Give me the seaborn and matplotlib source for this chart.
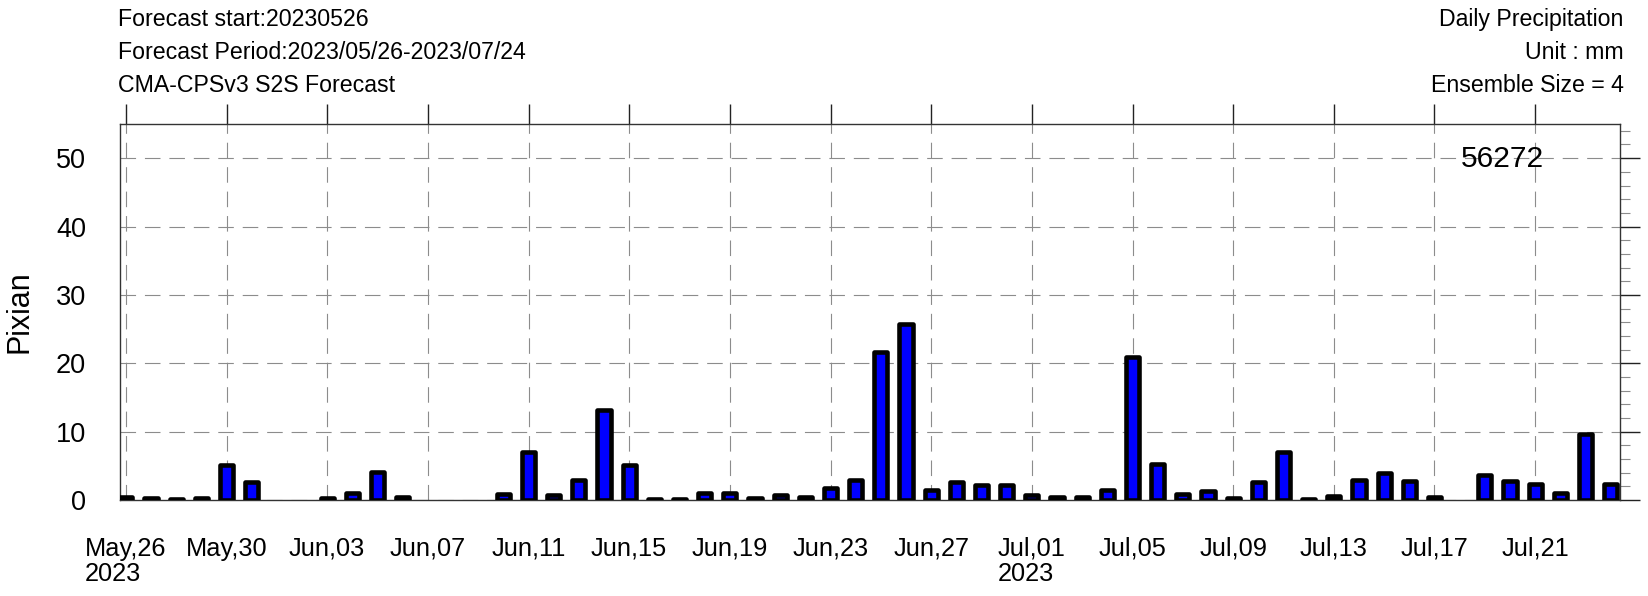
import matplotlib
matplotlib.use("Agg")
import matplotlib.pyplot as plt
from matplotlib.ticker import MultipleLocator
import seaborn as sns
import pandas as pd

# daily ensemble-mean precipitation (mm), 2023-05-26 .. 2023-07-24
start_date = "2023-05-26"
precip = [0.4, 0.35, 0.15, 0.25, 5.1, 2.7, 0, 0, 0.35, 1.0,
          4.1, 0.5, 0, 0, 0, 0.85, 7.0, 0.75, 2.9, 13.2,
          5.1, 0.2, 0.15, 1.0, 1.1, 0.35, 0.7, 0.5, 1.7, 3.0,
          21.7, 25.8, 1.4, 2.6, 2.2, 2.2, 0.75, 0.5, 0.5, 1.4,
          20.9, 5.2, 0.9, 1.3, 0.3, 2.7, 7.0, 0.2, 0.6, 3.0,
          4.0, 2.8, 0.45, 0, 3.6, 2.8, 2.35, 1.1, 9.6, 2.3]
station = "56272"
ylabel = "Pixian"
left_titles = ["Forecast start:20230526",
               "Forecast Period:2023/05/26-2023/07/24",
               "CMA-CPSv3 S2S Forecast"]
right_titles = ["Daily Precipitation", "Unit : mm", "Ensemble Size = 4"]

sns.set_style("white")
plt.rcParams["font.family"] = ["Liberation Sans", "DejaVu Sans"]
plt.rcParams["text.color"] = "black"
plt.rcParams["axes.labelcolor"] = "black"
plt.rcParams["xtick.color"] = "black"
plt.rcParams["ytick.color"] = "black"

dates = pd.date_range(start_date, periods=len(precip))
df = pd.DataFrame({"day": range(len(precip)), "precip": precip})

fig = plt.figure(figsize=(16.49, 5.96), dpi=100)
ax = fig.add_axes([0.0728, 0.161, 0.9096, 0.631])

sns.barplot(data=df, x="day", y="precip", order=list(df["day"]),
            color="blue", saturation=1, edgecolor="black", linewidth=3.3,
            width=0.52, ax=ax, zorder=3)
for p in ax.patches:
    p.set_joinstyle("round")
    if p.get_height() == 0:
        p.set_visible(False)

ax.set_xlim(-0.23, 59.37)
ax.set_ylim(0, 55)

# tick labels every 4 days, year under first day and first of July
tick_pos = list(range(0, len(dates), 4))
tick_lab = []
for i in tick_pos:
    d = dates[i]
    lab = f"{d:%b},{d:%d}"
    if i == 0 or (d.day == 1):
        lab += "\n2023"
    tick_lab.append(lab)
ax.set_xticks(tick_pos)
ax.set_xticklabels(tick_lab, fontsize=18.3, linespacing=1.05)
for t in ax.get_xticklabels():
    t.set_verticalalignment("top")
    t.set_multialignment("left")

ax.yaxis.set_major_locator(MultipleLocator(10))
ax.yaxis.set_minor_locator(MultipleLocator(2))
ax.tick_params(axis="x", which="major", direction="out", length=14.4, width=1,
               top=True, labeltop=False, pad=12, color="#222222")
ax.tick_params(axis="y", which="major", direction="out", length=14.4, width=1,
               right=True, labelright=False, pad=10, labelsize=19.5, color="#222222")
ax.tick_params(axis="y", which="minor", direction="out", length=7.2, width=0.8,
               right=True, color="0.55")

ax.grid(True, axis="both", which="major", linestyle=(0, (14, 8)),
        color="0.55", linewidth=0.8, zorder=0)
ax.set_axisbelow(True)
for s in ax.spines.values():
    s.set_color("#333333")
    s.set_linewidth(1.0)

ax.set_xlabel("")
ax.set_ylabel(ylabel, fontsize=22)
ax.yaxis.set_label_coords(-0.057, 0.5)

ax.text(54.7, 48.7, station, fontsize=21.5, ha="center", va="baseline", zorder=5)

for txt, y in zip(left_titles, [0.9557, 0.901, 0.8448]):
    fig.text(0.0715, y, txt, fontsize=16.7, ha="left", va="baseline")
for txt, y in zip(right_titles, [0.9557, 0.901, 0.8448]):
    fig.text(0.9845, y, txt, fontsize=16.7, ha="right", va="baseline")

fig.savefig("out.png", dpi=100)
